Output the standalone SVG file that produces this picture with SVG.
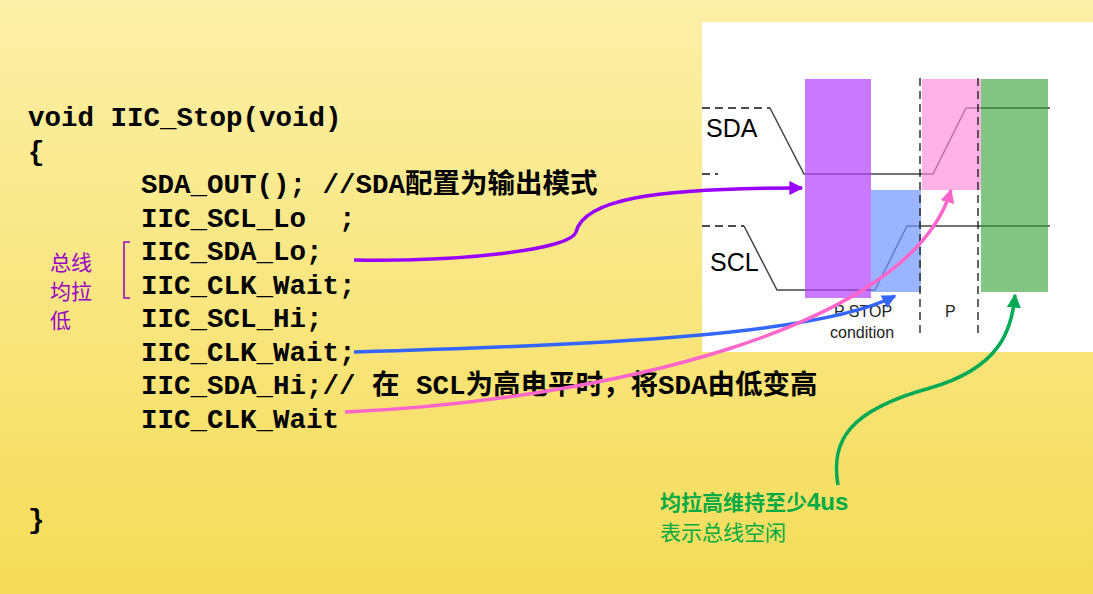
<svg xmlns="http://www.w3.org/2000/svg" width="1093" height="594" viewBox="0 0 1093 594">
<defs>
<linearGradient id="bg" x1="0" y1="0" x2="0" y2="1"><stop offset="0" stop-color="#fcf0a8"/><stop offset="1" stop-color="#f5dc58"/></linearGradient>
<marker id="mp" viewBox="0 0 10 10" refX="9" refY="5" markerWidth="4" markerHeight="4" orient="auto"><path d="M0,0L10,5L0,10z" fill="#9900ff"/></marker>
<marker id="mb" viewBox="0 0 10 10" refX="9" refY="5" markerWidth="4" markerHeight="4" orient="auto"><path d="M0,0L10,5L0,10z" fill="#3366ff"/></marker>
<marker id="mk" viewBox="0 0 10 10" refX="9" refY="5" markerWidth="4" markerHeight="4" orient="auto"><path d="M0,0L10,5L0,10z" fill="#ff66cc"/></marker>
<marker id="mg" viewBox="0 0 10 10" refX="9" refY="5" markerWidth="4" markerHeight="4" orient="auto"><path d="M0,0L10,5L0,10z" fill="#00aa55"/></marker>
</defs>
<style>
.code{font-family:"Liberation Mono","Noto Sans CJK SC",monospace;font-weight:bold;font-size:27.5px;fill:#000;white-space:pre}
.lab{font-family:"Liberation Sans",sans-serif;font-size:25px;fill:#000}
.sm{font-family:"Liberation Sans",sans-serif;font-size:16px;fill:#222}
.wave{fill:none;stroke:#444;stroke-width:1.5}
.dash{fill:none;stroke:#111;stroke-width:1.3;stroke-dasharray:8 5}
.arr{fill:none;stroke-width:3.5}
.cn{font-family:"Noto Sans CJK SC",sans-serif;font-size:21px}
</style>
<rect width="1093" height="594" fill="url(#bg)"/>
<g id="timing">
<rect x="702" y="22" width="391" height="330" fill="#fff"/>
<path class="dash" d="M702,108H770M702,174H718M702,226H744"/>
<path class="wave" d="M770,108L804,174H933L966,108H1050"/>
<path class="wave" d="M744,226L777,290H875L907,226H1050"/>
<rect x="805" y="79" width="66" height="219" fill="#b040ff" fill-opacity="0.7"/>
<rect x="871" y="190" width="50" height="102" fill="#6f95ff" fill-opacity="0.7"/>
<rect x="922" y="79" width="59" height="111" fill="#ff88d8" fill-opacity="0.65"/>
<rect x="981" y="79" width="67" height="213" fill="#30a030" fill-opacity="0.6"/>
<path class="dash" d="M920,78V336M978,78V336"/>
<text class="lab" x="706" y="137">SDA</text>
<text class="lab" x="710" y="271">SCL</text>
<text class="sm" x="834" y="317">P  STOP</text>
<text class="sm" x="830" y="338">condition</text>
<text class="sm" x="945" y="317">P</text>
</g>
<g id="code">
<text class="code" x="28" y="126">void IIC_Stop(void)</text>
<text class="code" x="28" y="160">{</text>
<text class="code" x="141" y="193">SDA_OUT(); //SDA配置为输出模式</text>
<text class="code" x="141" y="227">IIC_SCL_Lo  ;</text>
<text class="code" x="141" y="260">IIC_SDA_Lo;</text>
<text class="code" x="141" y="294">IIC_CLK_Wait;</text>
<text class="code" x="141" y="327">IIC_SCL_Hi;</text>
<text class="code" x="141" y="361">IIC_CLK_Wait;</text>
<text class="code" x="141" y="394">IIC_SDA_Hi;// 在 SCL为高电平时，将SDA由低变高</text>
<text class="code" x="141" y="428">IIC_CLK_Wait</text>
<text class="code" x="28" y="528">}</text>
</g>
<g id="note1">
<text class="cn" x="50" y="270" fill="#9900cc">总线</text>
<text class="cn" x="50" y="299" fill="#9900cc">均拉</text>
<text class="cn" x="50" y="328" fill="#9900cc">低</text>
<path d="M130,242H124V298H130" fill="none" stroke="#9900cc" stroke-width="1.5"/>
</g>
<g id="note2">
<text class="cn" x="660" y="510" fill="#00aa44" font-weight="bold" font-size="22">均拉高维持至少<tspan font-family="Liberation Sans" font-size="24">4us</tspan></text>
<text class="cn" x="660" y="540" fill="#00aa44" font-size="23">表示总线空闲</text>
</g>
<g id="connectors">
<path class="arr" stroke="#9900ff" marker-end="url(#mp)" d="M354,260C460,262 570,250 576,232C584,200 650,188 802,188"/>
<path class="arr" stroke="#3366ff" marker-end="url(#mb)" d="M354,352C600,345 820,335 895,296"/>
<path class="arr" stroke="#ff66cc" marker-end="url(#mk)" d="M345,412C600,400 910,330 951,190"/>
<path class="arr" stroke="#00aa55" marker-end="url(#mg)" d="M838,485C830,440 850,410 930,388C1000,368 1012,330 1015,295"/>
</g>
</svg>
